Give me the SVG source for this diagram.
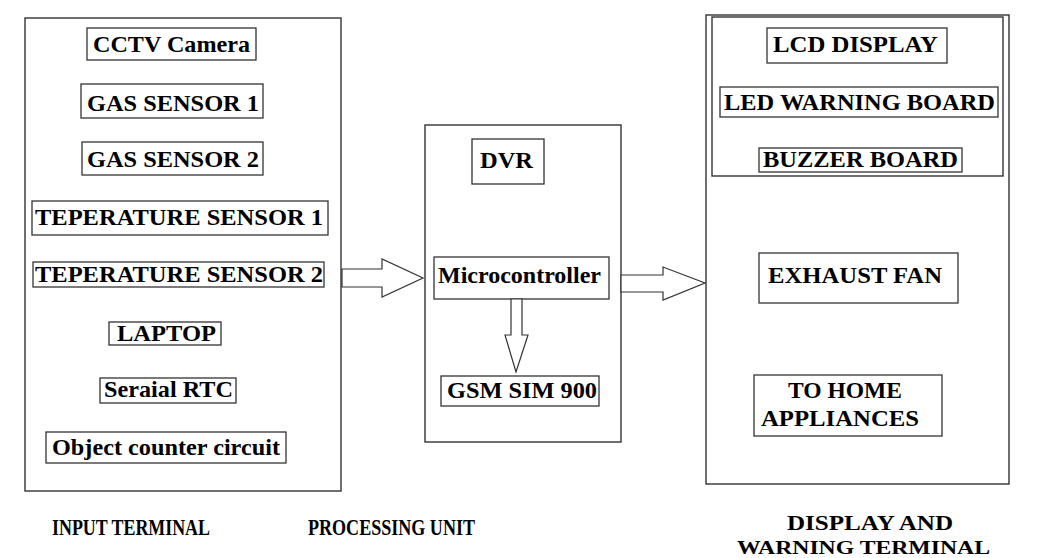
<svg xmlns="http://www.w3.org/2000/svg" width="1053" height="558" viewBox="0 0 1053 558">
<style>
.box{fill:none;stroke:#333;stroke-width:1.4}
.nb{fill:#fff;stroke:#333;stroke-width:1.3}
.t{font-family:"Liberation Serif","Times New Roman",serif;font-weight:bold;font-size:24px;fill:#000}
.arr{fill:#fff;stroke:#333;stroke-width:1.2;stroke-linejoin:miter}
</style>
<rect width="1053" height="558" fill="#fff"/>
<g id="input-terminal">
<rect class="box" x="25" y="18" width="316" height="473"/>
</g>
<g id="processing-unit">
<rect class="box" x="425" y="125" width="196" height="317"/>
</g>
<g id="display-terminal">
<rect class="box" x="706" y="15" width="303" height="469"/>
<rect class="box" x="712" y="17" width="291" height="159"/>
</g>
<g id="cctv"><rect class="nb" x="87" y="28" width="169" height="32"/><text class="t" x="93" y="52" textLength="157" lengthAdjust="spacingAndGlyphs">CCTV Camera</text></g>
<g id="gas1"><rect class="nb" x="81" y="84" width="182" height="34"/><text class="t" x="87" y="111" textLength="172" lengthAdjust="spacingAndGlyphs">GAS SENSOR 1</text></g>
<g id="gas2"><rect class="nb" x="82" y="142" width="181" height="33"/><text class="t" x="87" y="167" textLength="172" lengthAdjust="spacingAndGlyphs">GAS SENSOR 2</text></g>
<g id="temp1"><rect class="nb" x="32" y="201" width="296" height="34"/><text class="t" x="35" y="225" textLength="288" lengthAdjust="spacingAndGlyphs">TEPERATURE SENSOR 1</text></g>
<g id="temp2"><rect class="nb" x="33" y="262" width="291" height="25"/><text class="t" x="35" y="282" textLength="288" lengthAdjust="spacingAndGlyphs">TEPERATURE SENSOR 2</text></g>
<g id="laptop"><rect class="nb" x="109" y="322" width="112" height="23"/><text class="t" x="117" y="341" textLength="99" lengthAdjust="spacingAndGlyphs">LAPTOP</text></g>
<g id="rtc"><rect class="nb" x="100" y="378" width="136" height="25"/><text class="t" x="104" y="397" textLength="129" lengthAdjust="spacingAndGlyphs">Seraial RTC</text></g>
<g id="counter"><rect class="nb" x="46" y="432" width="240" height="31"/><text class="t" x="52" y="455" textLength="228" lengthAdjust="spacingAndGlyphs">Object counter circuit</text></g>
<g id="dvr"><rect class="nb" x="472" y="139" width="72" height="45"/><text class="t" x="480" y="168" textLength="53" lengthAdjust="spacingAndGlyphs">DVR</text></g>
<g id="micro"><rect class="nb" x="434" y="257" width="175" height="42"/><text class="t" x="438" y="283" textLength="163" lengthAdjust="spacingAndGlyphs">Microcontroller</text></g>
<g id="gsm"><rect class="nb" x="441" y="376" width="158" height="30"/><text class="t" x="447" y="398" textLength="150" lengthAdjust="spacingAndGlyphs">GSM SIM 900</text></g>
<g id="lcd"><rect class="nb" x="767" y="28" width="180" height="35"/><text class="t" x="773" y="52" textLength="165" lengthAdjust="spacingAndGlyphs">LCD DISPLAY</text></g>
<g id="led"><rect class="nb" x="720" y="87" width="278" height="30"/><text class="t" x="724" y="110" textLength="271" lengthAdjust="spacingAndGlyphs">LED WARNING BOARD</text></g>
<g id="buzzer"><rect class="nb" x="759" y="148" width="203" height="24"/><text class="t" x="763" y="167" textLength="195" lengthAdjust="spacingAndGlyphs">BUZZER BOARD</text></g>
<g id="fan"><rect class="nb" x="759" y="253" width="199" height="50"/><text class="t" x="768" y="283" textLength="174" lengthAdjust="spacingAndGlyphs">EXHAUST FAN</text></g>
<g id="home"><rect class="nb" x="754" y="375" width="188" height="61"/><text class="t" x="788" y="398" textLength="114" lengthAdjust="spacingAndGlyphs">TO HOME</text><text class="t" x="761" y="426" textLength="158" lengthAdjust="spacingAndGlyphs">APPLIANCES</text></g>
<g id="connectors">
<polygon class="arr" points="342,269 382,269 382,259 423,278 382,297 382,287 342,287"/>
<polygon class="arr" points="621,275 663,275 663,267 705,283 663,300 663,292 621,292"/>
<polygon class="arr" points="511,299 522,299 522,335 528,335 516,372 505,335 511,335"/>
</g>
<g id="labels">
<text class="t" x="52" y="535" textLength="158" lengthAdjust="spacingAndGlyphs">INPUT TERMINAL</text>
<text class="t" x="308" y="535" textLength="167" lengthAdjust="spacingAndGlyphs">PROCESSING UNIT</text>
<text class="t" x="787" y="530" style="font-size:22px" textLength="166" lengthAdjust="spacingAndGlyphs">DISPLAY AND</text>
<text class="t" x="737" y="554" style="font-size:18px" textLength="253" lengthAdjust="spacingAndGlyphs">WARNING TERMINAL</text>
</g>
</svg>
